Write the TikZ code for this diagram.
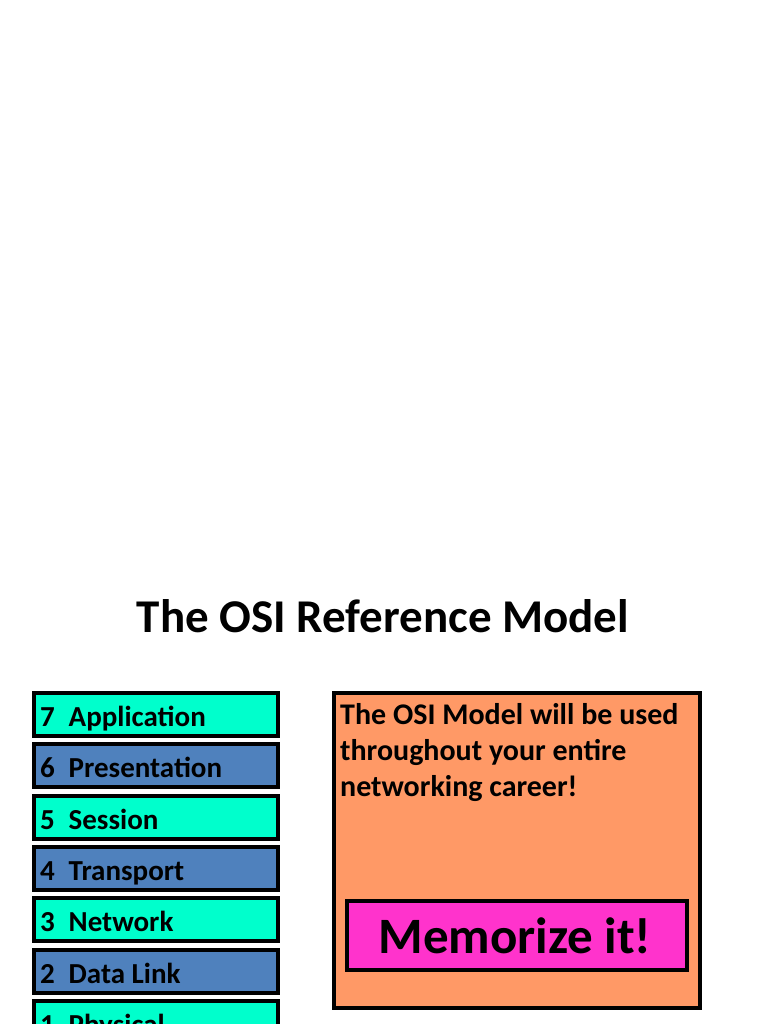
\documentclass[tikz,border=0pt]{standalone}
\usepackage{fontspec}
\setmainfont{Carlito}
\definecolor{aqua}{HTML}{00FFCC}
\definecolor{steel}{HTML}{4F81BD}
\definecolor{peach}{HTML}{FF9966}
\definecolor{pink}{HTML}{FF33CC}
\tikzset{
  layer/.style={draw=black, line width=4pt, minimum width=244pt, minimum height=43pt,
    text width=232pt, align=flush left, inner xsep=6pt, inner ysep=0pt, text height=26pt, text depth=3pt,
    font=\fontsize{29}{33}\selectfont\bfseries, anchor=north west},
  odd/.style={layer, fill=aqua},
  even/.style={layer, fill=steel},
}
\newcommand{\gapnum}{\hspace{14pt}}
\begin{document}
\begin{tikzpicture}[x=1pt,y=1pt]
\useasboundingbox (0,0) rectangle (768,-1024);
\clip (0,0) rectangle (768,-1024);
\fill[white] (0,0) rectangle (768,-1024);
\node[font=\fontsize{47}{52}\selectfont\bfseries, anchor=base] (title) at (383,-632) {The OSI Reference Model};
\node[odd]  (l7) at (32,-691) {7\gapnum Application};
\node[even] (l6) at (32,-742) {6\gapnum Presentation};
\node[odd]  (l5) at (32,-794) {5\gapnum Session};
\node[even] (l4) at (32,-845) {4\gapnum Transport};
\node[odd]  (l3) at (32,-896) {3\gapnum Network};
\node[even] (l2) at (32,-948) {2\gapnum Data Link};
\node[odd]  (l1) at (32,-999) {1\gapnum Physical};
\node[draw=black, line width=4pt, fill=peach, minimum width=366pt, minimum height=315pt, anchor=north west, inner sep=0pt] (note) at (332,-691) {};
\node[anchor=north west, text width=355pt, align=flush left, inner sep=0pt, font=\fontsize{30}{36}\selectfont\bfseries] (notetext) at (340,-703.5) {The OSI Model will be used\\throughout your entire\\networking career!};
\node[draw=black, line width=4pt, fill=pink, minimum width=340pt, minimum height=69pt, anchor=north west, inner sep=0pt] (mem) at (345,-899) {};
\node[anchor=base, font=\fontsize{51}{56}\selectfont\bfseries] (memtext) at (515,-953) {Memorize it!};
\end{tikzpicture}
\end{document}
